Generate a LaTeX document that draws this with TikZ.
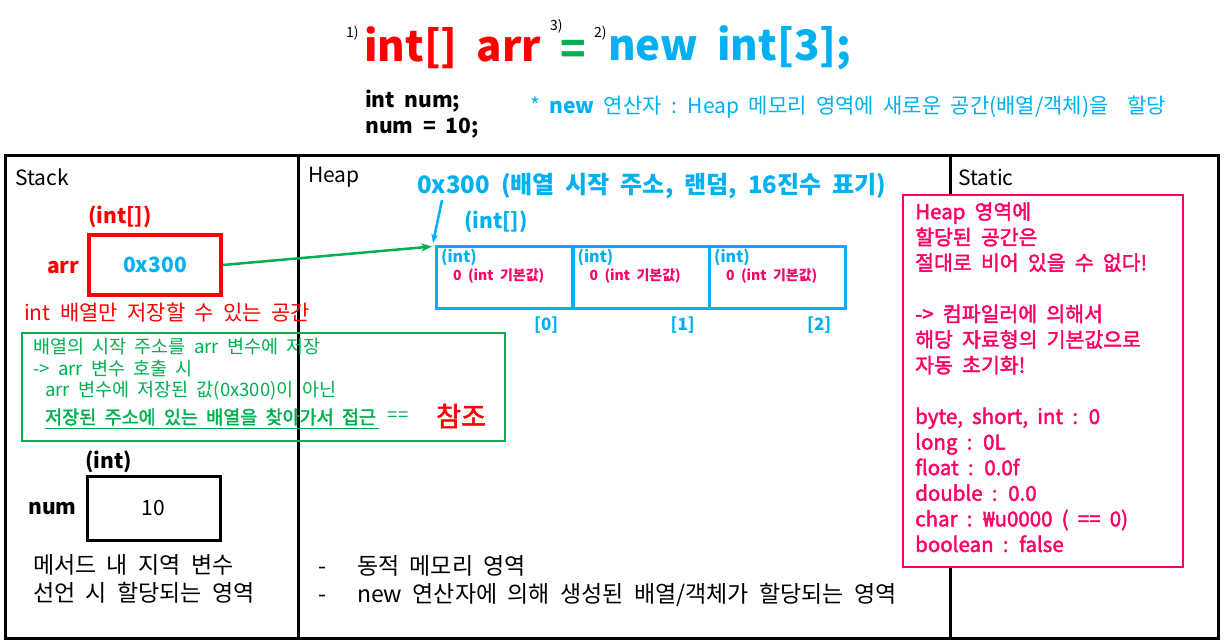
\documentclass[tikz,border=0pt]{standalone}
\usepackage{fontspec}
\usetikzlibrary{arrows.meta}
\setmainfont{Noto Sans CJK KR}[WordSpace=2]
\newfontfamily\kb[FakeBold=2,WordSpace=2]{Noto Sans CJK KR}
\definecolor{cred}{HTML}{FF0000}
\definecolor{cblue}{HTML}{00B0F0}
\definecolor{cgreen}{HTML}{00B050}
\definecolor{cmag}{HTML}{FF0066}
\begin{document}
\begin{tikzpicture}[x=1pt,y=-1pt,
  t/.style={inner sep=0pt,anchor=west},
  n/.style={t,font=\fontsize{21}{22}\selectfont},
  s/.style={t,font=\fontsize{18.5}{19}\selectfont},
  b/.style={t,font=\fontsize{21}{22}\selectfont\bfseries},
  cell/.style={draw=cblue,line width=3pt,minimum width=136pt,minimum height=62pt,inner sep=0pt}]
\useasboundingbox (0,0) rectangle (1225,641);
% title
\node[t,font=\fontsize{14}{14}\selectfont] (s1) at (346,33) {1)};
\node[t,font=\fontsize{42}{44}\selectfont\bfseries,text=cred] (t1) at (364,48) {int[] arr};
\node[t,font=\fontsize{14}{14}\selectfont] (s3) at (550,26) {3)};
\node[t,font=\fontsize{42}{44}\selectfont\bfseries,text=cgreen] (eq) at (560,52) {=};
\node[t,font=\fontsize{14}{14}\selectfont] (s2) at (594,33) {2)};
\node[t,font=\fontsize{42}{44}\selectfont\bfseries,text=cblue] (t2) at (608,48) {new int[3];};
\node[b] (l1) at (365,101) {int num;};
\node[b] (l2) at (365,128) {num\ =\ 10;};
\node[n,text=cblue] (nw) at (530,107) {* \textbf{new} 연산자 : Heap 메모리 영역에 새로운 공간(배열/객체)을\ \ 할당};
% frame
\draw[line width=3pt] (5,155) rectangle (1218,638);
\draw[line width=3pt] (298,155) -- (298,638);
\draw[line width=3pt] (950,155) -- (950,638);
\node[n] (st) at (15,177) {Stack};
\node[n] (hp) at (308,177) {Heap};
\node[n] (sc) at (958,177) {Static};
% stack arr
\node[b,text=cred] (ta) at (88,217) {(int[])};
\node[draw=cred,line width=3.5pt,minimum width=132pt,minimum height=60pt,inner sep=0pt] (arr) at (155,265) {};
\node[b,text=cblue,anchor=center] at (arr) {0x300};
\node[b,text=cred] (an) at (47,268) {arr};
\node[n,text=cred] (desc) at (24,313) {int 배열만 저장할 수 있는 공간};
\node[draw=cgreen,line width=1.5pt,minimum width=483pt,minimum height=108pt,inner sep=0pt] (gb) at (263.5,387) {};
\node[s,text=cgreen] at (33,347) {배열의 시작 주소를 arr 변수에 저장};
\node[s,text=cgreen] at (33,369) {-> arr 변수 호출 시};
\node[s,text=cgreen] at (45,391) {arr 변수에 저장된 값(0x300)이 아닌};
\node[s,text=cgreen,font=\fontsize{18.5}{19}\selectfont\kb] (ul) at (45,417) {저장된 주소에 있는 배열을 찾아가서 접근\,};
\draw[cgreen,line width=1pt] ([yshift=-3pt]ul.south west) -- ([yshift=-3pt]ul.south east);
\node[s,text=cgreen] at (ul.east) {\ ==};
\node[t,text=cred,font=\fontsize{27}{28}\selectfont\kb] at (436,416) {참조};
% num
\node[b] (ti) at (85,462) {(int)};
\node[draw,line width=3pt,minimum width=133pt,minimum height=64pt,inner sep=0pt] (num) at (153.5,508) {};
\node[n,anchor=center] at (num) {10};
\node[b] (nn) at (28,509) {num};
\node[n,font=\fontsize{23}{24}\selectfont] at (33,565) {메서드 내 지역 변수};
\node[n,font=\fontsize{23}{24}\selectfont] at (33,593) {선언 시 할당되는 영역};
% heap
\node[b,text=cblue,font=\fontsize{24}{24}\selectfont\bfseries] (addr) at (417,186) {0x300 (배열 시작 주소, 랜덤, 16진수 표기)};
\node[b,text=cblue] (tia) at (464,222) {(int[])};
\node[cell] (c0) at (504.5,277) {};
\node[cell] (c1) at (641,277) {};
\node[cell] (c2) at (777.5,277) {};
\foreach \c/\i in {c0/0,c1/1,c2/2}{
  \node[s,text=cblue,font=\fontsize{16}{18}\selectfont\bfseries] at ([xshift=6pt,yshift=-13pt]\c.north west) {(int)};
  \node[s,text=cmag,font=\fontsize{14}{16}\selectfont\bfseries] at ([xshift=18pt,yshift=-32pt]\c.north west) {0 (int 기본값)};
  \node[s,text=cblue,font=\fontsize{17}{19}\selectfont\bfseries] at ([xshift=-40pt,yshift=-16pt]\c.south east) {[\i]};
}
\coordinate (ah) at (433,243);
\draw[cblue,line width=2.5pt,-{Stealth[length=9pt]}] (442,200) -- (ah);
\draw[cgreen,line width=2.5pt,-{Stealth[length=11pt]}] (arr.east) -- ([xshift=-3pt,yshift=-2pt]c0.north west);
\node[n,font=\fontsize{23}{24}\selectfont] at (318,566) {-\ \ \ 동적 메모리 영역};
\node[n,font=\fontsize{23}{24}\selectfont] at (318,595) {-\ \ \ new 연산자에 의해 생성된 배열/객체가 할당되는 영역};
% static
\node[draw=cmag,fill=white,line width=1.5pt,minimum width=280pt,minimum height=372pt,inner sep=0pt] (sb) at (1043,381) {};
\node[t,text=cmag,font=\fontsize{20.5}{25.6}\selectfont\kb,align=left,anchor=north west] at (915,202) {Heap\ 영역에\\할당된 공간은\\절대로 비어 있을 수 없다!\\[25.6pt]-> 컴파일러에 의해서\\해당 자료형의 기본값으로\\자동 초기화!\\[25.6pt]byte, short, int : 0\\long : 0L\\float : 0.0f\\double : 0.0\\char : ₩u0000\ (\ == 0)\\boolean : false};
\end{tikzpicture}
\end{document}
